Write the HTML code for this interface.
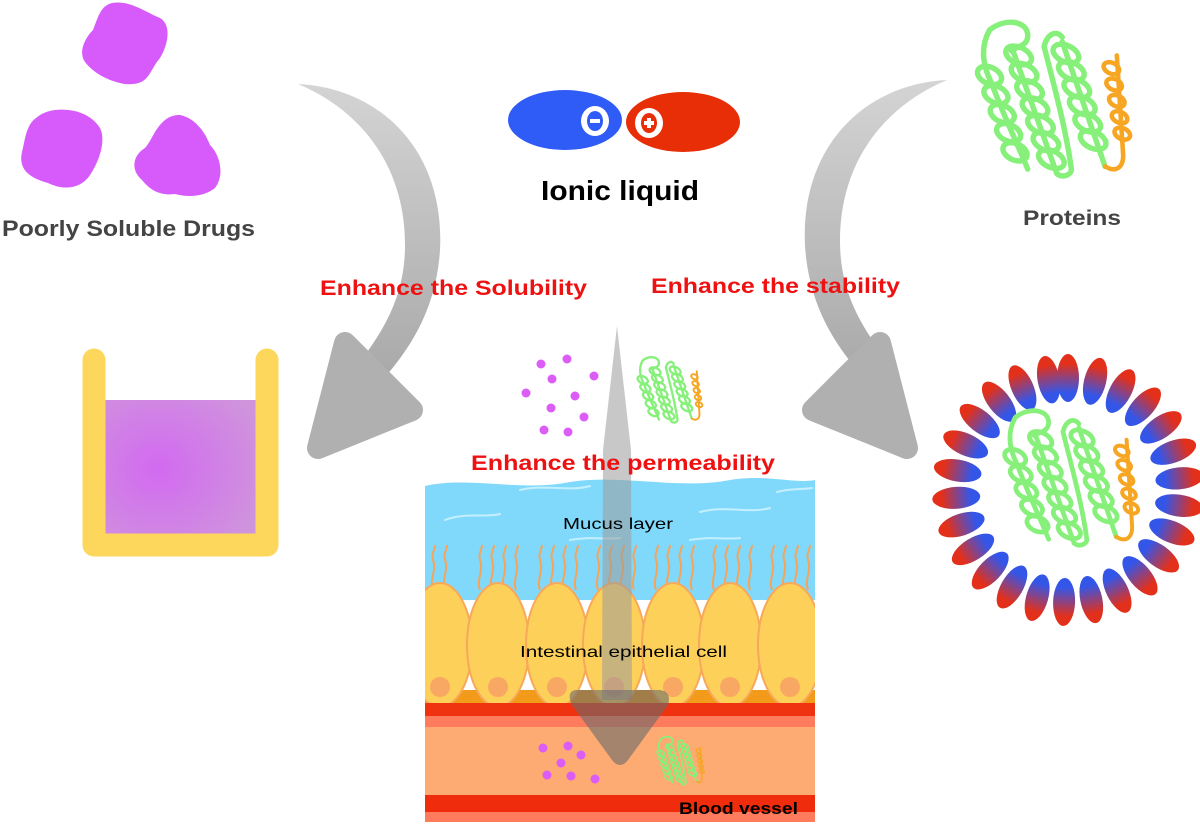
<!DOCTYPE html>
<html><head><meta charset="utf-8"><style>
html,body{margin:0;padding:0;background:#fff;}
svg{display:block;}
text{font-family:"Liberation Sans",Arial,sans-serif;}
</style></head><body>
<svg width="1200" height="826" viewBox="0 0 1200 826" xmlns="http://www.w3.org/2000/svg">
<defs>
  <radialGradient id="purp" cx="0.35" cy="0.5" r="0.75">
    <stop offset="0" stop-color="#d26af0"/><stop offset="1" stop-color="#cf95dc"/>
  </radialGradient>
  <linearGradient id="arrL" x1="0" y1="0" x2="0" y2="1">
    <stop offset="0" stop-color="#d4d4d4"/><stop offset="1" stop-color="#a8a8a8"/>
  </linearGradient>
  <linearGradient id="lip" x1="0" y1="0" x2="0" y2="1">
    <stop offset="0.2" stop-color="#e3301a"/><stop offset="0.8" stop-color="#3456e8"/>
  </linearGradient>
  <clipPath id="box"><rect x="425" y="470" width="390" height="356"/></clipPath>
  <symbol id="prot" viewBox="0 0 220 220">
    <g fill="none" stroke-linecap="round" stroke-linejoin="round">
      <g stroke="#86f07a" stroke-width="6">
        <path d="M80,175 C70,150 55,120 40,80 C30,60 28,40 38,22 C55,8 80,12 80,28 C80,40 68,40 62,45"/>
        <ellipse cx="38" cy="72" rx="14" ry="9" transform="rotate(25 38 72)"/>
        <ellipse cx="45" cy="93" rx="14" ry="9" transform="rotate(25 45 93)"/>
        <ellipse cx="52" cy="114" rx="14" ry="9" transform="rotate(25 52 114)"/>
        <ellipse cx="59" cy="135" rx="14" ry="9" transform="rotate(25 59 135)"/>
        <ellipse cx="66" cy="156" rx="14" ry="9" transform="rotate(25 66 156)"/>
        <path d="M62,40 L112,180 C118,185 128,182 128,175 C122,130 108,80 98,40 C102,25 112,22 118,30"/>
        <ellipse cx="70" cy="50" rx="15" ry="9" transform="rotate(25 70 50)"/>
        <ellipse cx="76" cy="69" rx="15" ry="9" transform="rotate(25 76 69)"/>
        <ellipse cx="82" cy="88" rx="15" ry="9" transform="rotate(25 82 88)"/>
        <ellipse cx="88" cy="107" rx="15" ry="9" transform="rotate(25 88 107)"/>
        <ellipse cx="94" cy="126" rx="15" ry="9" transform="rotate(25 94 126)"/>
        <ellipse cx="100" cy="145" rx="15" ry="9" transform="rotate(25 100 145)"/>
        <ellipse cx="106" cy="164" rx="15" ry="9" transform="rotate(25 106 164)"/>
        <ellipse cx="122" cy="48" rx="15" ry="9" transform="rotate(25 122 48)"/>
        <ellipse cx="128" cy="67" rx="15" ry="9" transform="rotate(25 128 67)"/>
        <ellipse cx="134" cy="86" rx="15" ry="9" transform="rotate(25 134 86)"/>
        <ellipse cx="140" cy="105" rx="15" ry="9" transform="rotate(25 140 105)"/>
        <ellipse cx="146" cy="124" rx="15" ry="9" transform="rotate(25 146 124)"/>
        <ellipse cx="152" cy="143" rx="15" ry="9" transform="rotate(25 152 143)"/>
        <path d="M118,35 L165,172"/>
      </g>
      <g stroke="#f6a623" stroke-width="5">
        <path d="M165,172 C178,180 185,172 185,160 L178,50"/>
        <ellipse cx="172" cy="64" rx="9" ry="6" transform="rotate(25 172 64)"/>
        <ellipse cx="175" cy="82" rx="9" ry="6" transform="rotate(25 175 82)"/>
        <ellipse cx="178" cy="100" rx="9" ry="6" transform="rotate(25 178 100)"/>
        <ellipse cx="181" cy="118" rx="9" ry="6" transform="rotate(25 181 118)"/>
        <ellipse cx="184" cy="136" rx="9" ry="6" transform="rotate(25 184 136)"/>
      </g>
    </g>
  </symbol>
</defs>

<!-- drugs -->
<g fill="#d75bfb">
  <path d="M112,3 C130,0 145,12 160,18 C172,25 168,45 160,58 C148,72 150,86 125,84 C112,82 95,75 85,62 C78,52 85,38 93,30 C98,18 100,6 112,3Z"/>
  <path d="M55,110 C75,108 92,115 100,128 C106,140 100,160 90,175 C80,190 62,190 48,183 C30,178 18,170 22,152 C25,140 26,125 36,118 C42,113 48,111 55,110Z"/>
  <path d="M180,115 C195,118 205,132 210,145 C220,155 225,175 215,188 C205,196 190,198 175,194 C160,196 150,190 142,180 C130,170 133,155 145,148 C152,140 155,128 165,120 C170,116 175,115 180,115Z"/>
</g>
<text x="2" y="236" font-size="22" font-weight="bold" fill="#444" textLength="253" lengthAdjust="spacingAndGlyphs">Poorly Soluble Drugs</text>

<!-- left curved arrow -->
<g fill="url(#arrL)">
  <path d="M298,84 C380,88 445,150 440,250 C436,310 410,350 378,385 L355,368 C385,330 405,295 405,245 C405,165 360,110 298,84Z"/>
  <path d="M345,343 L412,410 L318,448 Z" stroke="#b0b0b0" stroke-width="22" stroke-linejoin="round" fill="#b0b0b0"/>
</g>
<!-- right curved arrow -->
<g fill="url(#arrL)">
  <path d="M947,80 C865,84 800,146 805,246 C809,306 835,346 867,381 L890,364 C860,326 840,291 840,241 C840,161 885,106 947,80Z"/>
  <path d="M880,343 L813,410 L907,448 Z" stroke="#b0b0b0" stroke-width="22" stroke-linejoin="round" fill="#b0b0b0"/>
</g>

<!-- ionic liquid -->
<ellipse cx="565" cy="120" rx="57" ry="30" fill="#2f5bf6"/>
<ellipse cx="683" cy="122" rx="57" ry="30" fill="#e72e06"/>
<ellipse cx="595" cy="121" rx="14" ry="15" fill="#fff"/>
<ellipse cx="595" cy="121" rx="8" ry="10" fill="#2f5bf6"/>
<rect x="590" y="119" width="10" height="4" fill="#fff"/>
<ellipse cx="649" cy="123" rx="14" ry="15" fill="#fff"/>
<ellipse cx="649" cy="123" rx="8" ry="10" fill="#e72e06"/>
<rect x="644" y="121" width="10" height="4" fill="#fff"/>
<rect x="647" y="118" width="4" height="10" fill="#fff"/>
<text x="541" y="200" font-size="28" font-weight="bold" fill="#000" textLength="158" lengthAdjust="spacingAndGlyphs">Ionic liquid</text>

<!-- proteins -->
<use href="#prot" x="955" y="10" width="200" height="200"/>
<text x="1023" y="225" font-size="21" font-weight="bold" fill="#444" textLength="98" lengthAdjust="spacingAndGlyphs">Proteins</text>

<!-- red labels -->
<g font-size="21" font-weight="bold" fill="#ee1111">
  <text x="320" y="295" textLength="267" lengthAdjust="spacingAndGlyphs">Enhance the Solubility</text>
  <text x="651" y="293" textLength="249" lengthAdjust="spacingAndGlyphs">Enhance the stability</text>
</g>

<!-- beaker -->
<rect x="105" y="400" width="152" height="137" fill="url(#purp)"/>
<path d="M94,360 V545 H267 V360" fill="none" stroke="#fdd75b" stroke-width="23" stroke-linecap="round" stroke-linejoin="round"/>

<!-- dots and small protein -->
<g fill="#dc5cf6">
  <circle cx="541" cy="364" r="4.5"/><circle cx="567" cy="359" r="4.5"/><circle cx="552" cy="379" r="4.5"/>
  <circle cx="594" cy="376" r="4.5"/><circle cx="526" cy="393" r="4.5"/><circle cx="575" cy="396" r="4.5"/>
  <circle cx="551" cy="408" r="4.5"/><circle cx="584" cy="417" r="4.5"/><circle cx="544" cy="430" r="4.5"/>
  <circle cx="568" cy="432" r="4.5"/>
</g>
<use href="#prot" x="628" y="352" width="85" height="85"/>

<!-- intestine panel -->
<g clip-path="url(#box)">
  <path d="M425,486 C470,476 520,492 570,482 C620,474 680,490 730,480 C765,474 795,484 815,480 V600 H425Z" fill="#80d9fb"/>
  <g stroke="#c4efff" stroke-width="2" fill="none" stroke-linecap="round">
    <path d="M445,520 C465,512 485,518 500,514"/><path d="M520,490 C545,484 570,492 590,486"/>
    <path d="M700,512 C725,505 750,514 770,508"/><path d="M570,540 C590,536 605,540 620,538"/>
    <path d="M690,540 C710,536 725,540 740,538"/><path d="M777,492 C790,488 800,490 812,488"/>
  </g>
  <rect x="425" y="690" width="390" height="15" fill="#f29a1a"/>
  <g stroke="#f5a45a" stroke-width="2" fill="none">
    <path d="M433,590 c-4,-10 4,-20 0,-30 c-2,-6 2,-10 2,-15"/><path d="M445,590 c-4,-10 4,-20 0,-30 c-2,-6 2,-10 2,-15"/>
    <path d="M480,590 c-4,-10 4,-20 0,-30 c-2,-6 2,-10 2,-15"/><path d="M492,590 c-4,-10 4,-20 0,-30 c-2,-6 2,-10 2,-15"/><path d="M504,590 c-4,-10 4,-20 0,-30 c-2,-6 2,-10 2,-15"/><path d="M516,590 c-4,-10 4,-20 0,-30 c-2,-6 2,-10 2,-15"/>
    <path d="M540,590 c-4,-10 4,-20 0,-30 c-2,-6 2,-10 2,-15"/><path d="M552,590 c-4,-10 4,-20 0,-30 c-2,-6 2,-10 2,-15"/><path d="M564,590 c-4,-10 4,-20 0,-30 c-2,-6 2,-10 2,-15"/><path d="M576,590 c-4,-10 4,-20 0,-30 c-2,-6 2,-10 2,-15"/>
    <path d="M598,590 c-4,-10 4,-20 0,-30 c-2,-6 2,-10 2,-15"/><path d="M610,590 c-4,-10 4,-20 0,-30 c-2,-6 2,-10 2,-15"/><path d="M622,590 c-4,-10 4,-20 0,-30 c-2,-6 2,-10 2,-15"/><path d="M634,590 c-4,-10 4,-20 0,-30 c-2,-6 2,-10 2,-15"/>
    <path d="M656,590 c-4,-10 4,-20 0,-30 c-2,-6 2,-10 2,-15"/><path d="M668,590 c-4,-10 4,-20 0,-30 c-2,-6 2,-10 2,-15"/><path d="M680,590 c-4,-10 4,-20 0,-30 c-2,-6 2,-10 2,-15"/><path d="M692,590 c-4,-10 4,-20 0,-30 c-2,-6 2,-10 2,-15"/>
    <path d="M714,590 c-4,-10 4,-20 0,-30 c-2,-6 2,-10 2,-15"/><path d="M726,590 c-4,-10 4,-20 0,-30 c-2,-6 2,-10 2,-15"/><path d="M738,590 c-4,-10 4,-20 0,-30 c-2,-6 2,-10 2,-15"/><path d="M750,590 c-4,-10 4,-20 0,-30 c-2,-6 2,-10 2,-15"/>
    <path d="M772,590 c-4,-10 4,-20 0,-30 c-2,-6 2,-10 2,-15"/><path d="M784,590 c-4,-10 4,-20 0,-30 c-2,-6 2,-10 2,-15"/><path d="M796,590 c-4,-10 4,-20 0,-30 c-2,-6 2,-10 2,-15"/><path d="M808,590 c-4,-10 4,-20 0,-30 c-2,-6 2,-10 2,-15"/>
  </g>
  <g fill="#fdd05a" stroke="#f7a85a" stroke-width="2">
    <ellipse cx="440" cy="645" rx="32" ry="62"/>
    <ellipse cx="498" cy="645" rx="31" ry="62"/>
    <ellipse cx="557" cy="645" rx="31" ry="62"/>
    <ellipse cx="614" cy="645" rx="31" ry="62"/>
    <ellipse cx="673" cy="645" rx="31" ry="62"/>
    <ellipse cx="730" cy="645" rx="31" ry="62"/>
    <ellipse cx="790" cy="645" rx="32" ry="62"/>
  </g>
  <g fill="#f8a862">
    <circle cx="440" cy="687" r="10"/><circle cx="498" cy="687" r="10"/><circle cx="557" cy="687" r="10"/>
    <circle cx="614" cy="687" r="10"/><circle cx="673" cy="687" r="10"/><circle cx="730" cy="687" r="10"/><circle cx="790" cy="687" r="10"/>
  </g>
  <rect x="425" y="703" width="390" height="13" fill="#ef3210"/>
  <rect x="425" y="716" width="390" height="11" fill="#fe7b5d"/>
  <rect x="425" y="727" width="390" height="68" fill="#fdaa73"/>
  <rect x="425" y="795" width="390" height="17" fill="#ef2d0c"/>
  <rect x="425" y="812" width="390" height="10" fill="#fe7b5d"/>
</g>
<g fill="#dc5cf6">
  <circle cx="543" cy="748" r="4.5"/><circle cx="568" cy="746" r="4.5"/><circle cx="581" cy="755" r="4.5"/>
  <circle cx="561" cy="763" r="4.5"/><circle cx="547" cy="775" r="4.5"/><circle cx="571" cy="776" r="4.5"/><circle cx="595" cy="779" r="4.5"/>
</g>
<use href="#prot" x="650" y="733" width="62" height="62"/>

<!-- vertical arrow -->
<path d="M617,326 L603,450 L602,700 L632,700 L631,450 Z" fill="#9a9a9a" fill-opacity="0.55"/>
<path d="M575,690 L617,690 L617,690 L660,690 Q672,692 668,705 L628,760 Q620,770 612,760 L572,705 Q566,692 575,690Z" fill="#6a6a6a" fill-opacity="0.6"/>

<text x="471" y="470" font-size="21" font-weight="bold" fill="#ee1111" textLength="304" lengthAdjust="spacingAndGlyphs">Enhance the permeability</text>
<text x="563" y="529" font-size="16" fill="#000" textLength="110" lengthAdjust="spacingAndGlyphs">Mucus layer</text>
<text x="520" y="657" font-size="16" fill="#000" textLength="207" lengthAdjust="spacingAndGlyphs">Intestinal epithelial cell</text>
<text x="679" y="814" font-size="17" font-weight="bold" fill="#000" textLength="119" lengthAdjust="spacingAndGlyphs">Blood vessel</text>

<!-- nanoparticle -->
<g transform="translate(1068,490)">
  <g transform="rotate(0) translate(0,-112)"><ellipse rx="11" ry="24" fill="url(#lip)"/></g>
  <g transform="rotate(14) translate(0,-112)"><ellipse rx="11" ry="24" fill="url(#lip)"/></g>
  <g transform="rotate(28) translate(0,-112)"><ellipse rx="11" ry="24" fill="url(#lip)"/></g>
  <g transform="rotate(42) translate(0,-112)"><ellipse rx="11" ry="24" fill="url(#lip)"/></g>
  <g transform="rotate(56) translate(0,-112)"><ellipse rx="11" ry="24" fill="url(#lip)"/></g>
  <g transform="rotate(70) translate(0,-112)"><ellipse rx="11" ry="24" fill="url(#lip)"/></g>
  <g transform="rotate(84) translate(0,-112)"><ellipse rx="11" ry="24" fill="url(#lip)"/></g>
  <g transform="rotate(98) translate(0,-112)"><ellipse rx="11" ry="24" fill="url(#lip)"/></g>
  <g transform="rotate(112) translate(0,-112)"><ellipse rx="11" ry="24" fill="url(#lip)"/></g>
  <g transform="rotate(126) translate(0,-112)"><ellipse rx="11" ry="24" fill="url(#lip)"/></g>
  <g transform="rotate(140) translate(0,-112)"><ellipse rx="11" ry="24" fill="url(#lip)"/></g>
  <g transform="rotate(154) translate(0,-112)"><ellipse rx="11" ry="24" fill="url(#lip)"/></g>
  <g transform="rotate(168) translate(0,-112)"><ellipse rx="11" ry="24" fill="url(#lip)"/></g>
  <g transform="rotate(182) translate(0,-112)"><ellipse rx="11" ry="24" fill="url(#lip)"/></g>
  <g transform="rotate(196) translate(0,-112)"><ellipse rx="11" ry="24" fill="url(#lip)"/></g>
  <g transform="rotate(210) translate(0,-112)"><ellipse rx="11" ry="24" fill="url(#lip)"/></g>
  <g transform="rotate(224) translate(0,-112)"><ellipse rx="11" ry="24" fill="url(#lip)"/></g>
  <g transform="rotate(238) translate(0,-112)"><ellipse rx="11" ry="24" fill="url(#lip)"/></g>
  <g transform="rotate(252) translate(0,-112)"><ellipse rx="11" ry="24" fill="url(#lip)"/></g>
  <g transform="rotate(266) translate(0,-112)"><ellipse rx="11" ry="24" fill="url(#lip)"/></g>
  <g transform="rotate(280) translate(0,-112)"><ellipse rx="11" ry="24" fill="url(#lip)"/></g>
  <g transform="rotate(294) translate(0,-112)"><ellipse rx="11" ry="24" fill="url(#lip)"/></g>
  <g transform="rotate(308) translate(0,-112)"><ellipse rx="11" ry="24" fill="url(#lip)"/></g>
  <g transform="rotate(322) translate(0,-112)"><ellipse rx="11" ry="24" fill="url(#lip)"/></g>
  <g transform="rotate(336) translate(0,-112)"><ellipse rx="11" ry="24" fill="url(#lip)"/></g>
  <g transform="rotate(350) translate(0,-112)"><ellipse rx="11" ry="24" fill="url(#lip)"/></g>
</g>
<use href="#prot" x="985" y="400" width="175" height="175"/>
</svg>
</body></html>
